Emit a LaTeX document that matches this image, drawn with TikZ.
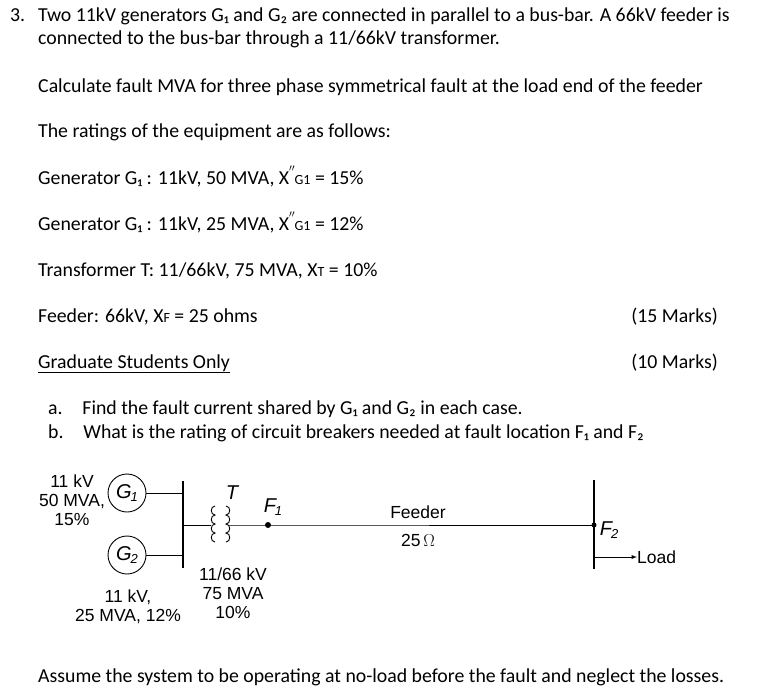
\documentclass[tikz,border=0pt]{standalone}
\usepackage{fontspec}
\setmainfont{Carlito}
\newfontfamily\arial{Liberation Sans}
\begin{document}
\begin{tikzpicture}[x=1pt,y=-1pt,
  txt/.style={anchor=base west,inner sep=0,font=\fontsize{19.8}{22}\selectfont},
  dg/.style={inner sep=0,font=\arial\fontsize{17.5}{19}\selectfont},
  lab/.style={inner sep=0,font=\arial\fontsize{20}{22}\selectfont\itshape},
  gen/.style={draw,circle,minimum size=38pt,inner sep=0,line width=0.9pt,font=\arial\fontsize{20}{22}\selectfont\itshape},
  wire/.style={line width=0.9pt},
  bus/.style={line width=1.4pt}]
\useasboundingbox (0,0) rectangle (770,693);
\node[txt] (n3) at (10,22) {3.};
\node[txt] (l1) at (38,22) {Two 11kV generators G₁ and G₂ are connected in parallel to a bus-bar. A 66kV feeder is};
\node[txt] (l2) at (38,45) {connected to the bus-bar through a 11/66kV transformer.};
\node[txt] (l3) at (38,92) {Calculate fault MVA for three phase symmetrical fault at the load end of the feeder};
\node[txt] (l4) at (38,137) {The ratings of the equipment are as follows:};
\node[txt] (l5) at (38,184) {Generator G₁ : 11kV, 50 MVA, X$^{''}$\kern-1pt{\fontsize{14}{16}\selectfont G1} = 15\%};
\node[txt] (l6) at (38,230) {Generator G₁ : 11kV, 25 MVA, X$^{''}$\kern-1pt{\fontsize{14}{16}\selectfont G1} = 12\%};
\node[txt] (l7) at (38,276) {Transformer T: 11/66kV, 75 MVA, X{\fontsize{14}{16}\selectfont T} = 10\%};
\node[txt] (l8) at (38,322) {Feeder: 66kV, X{\fontsize{14}{16}\selectfont F} = 25 ohms};
\node[txt,anchor=base east] (m1) at (718,322) {(15 Marks)};
\node[txt] (l9) at (38,368) {\underline{Graduate Students Only}};
\node[txt,anchor=base east] (m2) at (718,368) {(10 Marks)};
\node[txt] (la) at (48,414) {a.\quad Find the fault current shared by G₁ and G₂ in each case.};
\node[txt] (lb) at (48,438) {b.\quad What is the rating of circuit breakers needed at fault location F₁ and F₂};
\node[txt] (ll) at (38,682) {Assume the system to be operating at no-load before the fault and neglect the losses.};
% diagram
\node[gen] (g1) at (127,493) {G\kern-1pt\raisebox{-3pt}{\fontsize{13}{14}\selectfont 1}};
\node[gen] (g2) at (127,555) {G\kern-1pt\raisebox{-3pt}{\fontsize{13}{14}\selectfont 2}};
\coordinate (b1t) at (183,481);
\coordinate (b1b) at (183,568);
\draw[bus] (b1t) -- (b1b);
\draw[wire] (g1.east) -- (g1.east -| b1t);
\draw[wire] (g2.east) -- (g2.east -| b1t);
\coordinate (ta) at (211,525);
\coordinate (tb) at (229,525);
\draw[wire] (183,525) -- (ta);
\draw[wire] (215,506) to[out=180,in=180,looseness=1.4] (215,515) to[out=180,in=180,looseness=1.4] (215,524)
  to[out=180,in=180,looseness=1.4] (215,533) to[out=180,in=180,looseness=1.4] (215,542);
\draw[wire] (226,506) to[out=0,in=0,looseness=1.4] (226,515) to[out=0,in=0,looseness=1.4] (226,524)
  to[out=0,in=0,looseness=1.4] (226,533) to[out=0,in=0,looseness=1.4] (226,542);
\node[lab] (tl) at (232,493) {T};
\coordinate (b2t) at (594,480);
\coordinate (b2b) at (594,569);
\draw[bus] (b2t) -- (b2b);
\fill (268,525) circle (3) coordinate (f1);
\fill (594,525) circle (2.5) coordinate (f2);
\draw[wire] (tb) -- (f1) -- (f2);
\node[lab] (f1l) at (273,507) {F\kern-1pt\raisebox{-3pt}{\fontsize{13}{14}\selectfont 1}};
\node[lab] (f2l) at (609,530) {F\kern-1pt\raisebox{-3pt}{\fontsize{13}{14}\selectfont 2}};
\node[dg] (fd) at (418,512) {Feeder};
\node[dg] (om) at (418,540) {25\,$\Omega$};
\coordinate (ls) at (594,557);
\node[dg,anchor=west] (load) at (637,557) {Load};
\draw[wire,-latex] (ls) -- (load.west);
\node[dg,align=center] (gl1) at (72,500) {11 kV\\50 MVA,\\15\%};
\node[dg,align=center] (gl2) at (128,607) {11 kV,\\25 MVA, 12\%};
\node[dg,align=center] (tl2) at (233,593) {11/66 kV\\75 MVA\\10\%};
\end{tikzpicture}
\end{document}
